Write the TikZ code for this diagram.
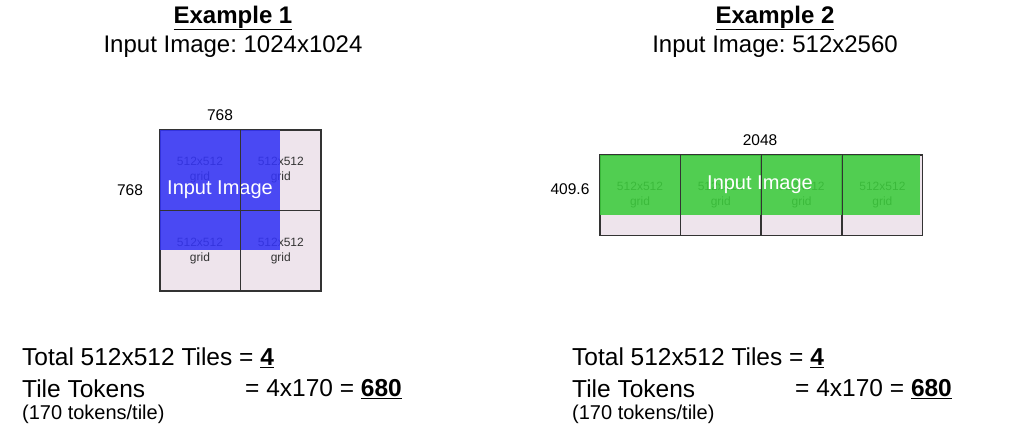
\documentclass[tikz,border=0pt]{standalone}
\usepackage{fontspec}
\setmainfont{Liberation Sans}
\usepackage{tikz}
\usetikzlibrary{positioning}
\frenchspacing

\definecolor{tilepink}{RGB}{238,228,236}
\definecolor{imgblue}{RGB}{52,52,245}
\definecolor{imggreen}{RGB}{60,204,60}
\definecolor{gridtext}{RGB}{51,51,51}

\tikzset{
  cell/.style={draw=gridtext, line width=0.8pt, fill=tilepink, minimum width=80pt, minimum height=80pt, inner sep=0pt, align=center, text=gridtext, font=\fontsize{12}{15}\selectfont},
  imgbox/.style={fill opacity=0.88, text opacity=1, text=white, inner sep=0pt, font=\fontsize{20}{24}\selectfont},
  dimlabel/.style={inner sep=0pt, font=\fontsize{15.5}{18}\selectfont},
  title/.style={inner sep=0pt, font=\fontsize{24}{28}\selectfont\bfseries},
  subtitle/.style={inner sep=0pt, font=\fontsize{24}{28}\selectfont},
  sumtext/.style={inner sep=0pt, anchor=west, font=\fontsize{24.5}{28}\selectfont},
  notetext/.style={inner sep=0pt, anchor=west, font=\fontsize{20}{22}\selectfont}
}

\begin{document}
\begin{tikzpicture}[x=1pt, y={(0pt,-1pt)}, node distance=0pt]
\useasboundingbox (0,0) rectangle (1011,436);

% Example 1
\node[title] (t1) at (233,18) {\underline{Example 1}};
\node[subtitle] (s1) at (233,47) {Input Image: 1024x1024};
\node[cell] (a11) at (200,170) {512x512\\grid};
\node[cell, right=of a11] (a12) {512x512\\grid};
\node[cell, below=of a11] (a21) {512x512\\grid};
\node[cell, right=of a21] (a22) {512x512\\grid};
\node[imgbox, fill=imgblue, minimum width=120pt, minimum height=120pt] (img1) at (220,190) {Input Image};
\node[dimlabel] (w1) at (220,115) {768};
\node[dimlabel] (h1) at (130,190) {768};
\draw[gridtext, line width=0.8pt] (a11.north west) rectangle (a22.south east)
  (a11.north east) -- (a21.south east) (a11.south west) -- (a12.south east);

% Example 2
\node[title] (t2) at (775,18) {\underline{Example 2}};
\node[subtitle] (s2) at (775,47) {Input Image: 512x2560};
\node[cell] (b1) at (640,195) {512x512\\grid};
\foreach \i [count=\j from 2] in {1,2,3} {
  \node[cell, right=of b\i] (b\j) {512x512\\grid};
}
\node[imgbox, fill=imggreen, minimum width=320pt, minimum height=60pt] (img2) at (760,185) {Input Image};
\foreach \i in {1,...,4} {
  \draw[gridtext, line width=0.8pt] (b\i.north west) rectangle (b\i.south east);
}
\node[dimlabel] (w2) at (760,140) {2048};
\node[dimlabel] (h2) at (570,189) {409.6};

% totals
\node[sumtext] (n1) at (22,358) {Total 512x512 Tiles = \underline{\textbf{4}}};
\node[sumtext] (k1) at (22,389) {Tile Tokens};
\node[sumtext] (m1) at (245,389) {= 4x170 = \underline{\textbf{680}}};
\node[notetext] (r1) at (22,414) {(170 tokens/tile)};

\node[sumtext] (n2) at (572,358) {Total 512x512 Tiles = \underline{\textbf{4}}};
\node[sumtext] (k2) at (572,389) {Tile Tokens};
\node[sumtext] (m2) at (795,389) {= 4x170 = \underline{\textbf{680}}};
\node[notetext] (r2) at (572,414) {(170 tokens/tile)};
\end{tikzpicture}
\end{document}
